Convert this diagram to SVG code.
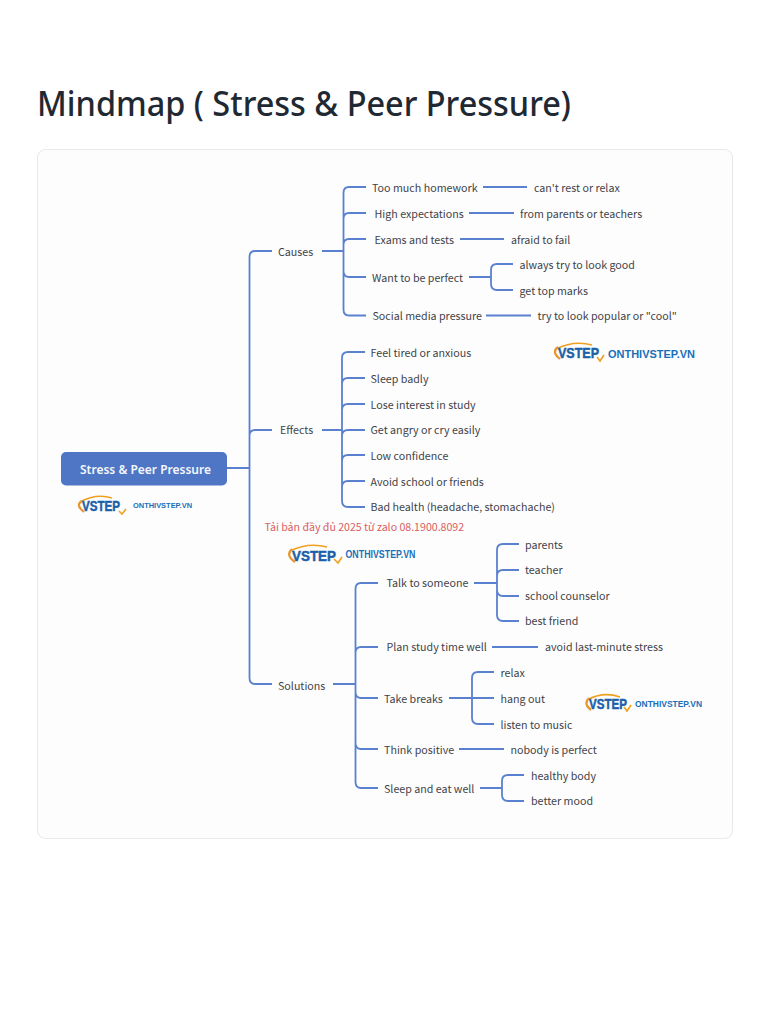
<svg xmlns="http://www.w3.org/2000/svg" width="768" height="1024" viewBox="0 0 768 1024">
<style>
text{font-family:"Noto Sans","Liberation Sans",sans-serif}
.t,.p{font-family:"Noto Sans CJK SC","Noto Sans",sans-serif;dominant-baseline:central;transform:translateY(-1px)}
.t{font-size:10.700px;fill:#3f4347}
.p{font-size:10.600px;fill:#d9605f}
.c{fill:none;stroke:#5a80d0;stroke-width:1.8}
.v{font-family:"Liberation Sans",sans-serif;font-weight:700;fill:#1c5fa8;stroke:#1c5fa8;stroke-width:.5}
.o{font-family:"Liberation Sans",sans-serif;font-weight:700;fill:#1a6fb8}
.a{fill:none;stroke:#f0a020;stroke-width:1.6}
.b{fill:none;stroke:#e8952a;stroke-width:2.2}
</style>
<rect width="768" height="1024" fill="#fff"/>
<text id="title" x="37" y="116" font-size="34" font-weight="500" fill="#1f2933" textLength="534" lengthAdjust="spacingAndGlyphs">Mindmap ( Stress &amp; Peer Pressure)</text>
<rect id="card" x="37.500" y="149.500" width="695" height="689" rx="8" fill="#fdfdfe" stroke="#e6e8eb"/>
<g id="connectors">
<path class="c" d="M227 468H249.500M272 251H255Q249.500 251 249.500 257V678Q249.500 684 255 684H272M249.500 436Q249.500 430 255 430H272"/>
<path class="c" d="M322 251H343.500M366 187H349Q343.500 187 343.500 193V309.500Q343.500 315.500 349 315.500H366M343.500 219Q343.500 213 349 213H366M343.500 245Q343.500 239 349 239H366M343.500 271Q343.500 277 349 277H366"/>
<path class="c" d="M483 187H527M469 213H514M460 239H504M486 315.500H531M469 277H491M513 264H497Q491 264 491 270V284Q491 290 497 290H513"/>
<path class="c" d="M322 430H342M365 352H348Q342 352 342 358V501Q342 507 348 507H365M342 384Q342 378 348 378H365M342 410Q342 404 348 404H365M342 436Q342 430 348 430H365M342 461Q342 455 348 455H365M342 487Q342 481 348 481H365"/>
<path class="c" d="M333 684H355.500M378 583H361Q355.500 583 355.500 589V782Q355.500 788 361 788H378M355.500 653Q355.500 647 361 647H378M355.500 692Q355.500 698 361 698H378M355.500 743Q355.500 749 361 749H378"/>
<path class="c" d="M474 583H497M519 544H503Q497 544 497 550V615Q497 621 503 621H519M497 576Q497 570 503 570H519M497 590Q497 596 503 596H519"/>
<path class="c" d="M492 647H538M449 698H494M494 672H478Q472 672 472 678V718Q472 724 478 724H494M459 749H504M480 788H502M524 775H508Q502 775 502 781V795Q502 801 508 801H524"/>
</g>
<g id="root"><rect x="61" y="452" width="166" height="33.500" rx="5" fill="#4f75c5"/><text x="145.500" y="469" font-size="12" font-weight="600" fill="#f4f7fc" text-anchor="middle" dominant-baseline="central">Stress &amp; Peer Pressure</text></g>
<g id="causes"><text class="t" x="278" y="252.500">Causes</text></g>
<g id="c1"><text class="t" x="372" y="188.500">Too much homework</text><text class="t" x="534" y="188.500">can't rest or relax</text></g>
<g id="c2"><text class="t" x="374.500" y="214.500">High expectations</text><text class="t" x="520" y="214.500">from parents or teachers</text></g>
<g id="c3"><text class="t" x="374.500" y="240.500">Exams and tests</text><text class="t" x="511" y="240.500">afraid to fail</text></g>
<g id="c4"><text class="t" x="372" y="278.500">Want to be perfect</text><text class="t" x="519.500" y="265">always try to look good</text><text class="t" x="519.500" y="291.500">get top marks</text></g>
<g id="c5"><text class="t" x="372.500" y="316">Social media pressure</text><text class="t" x="537.500" y="316">try to look popular or "cool"</text></g>
<g id="effects"><text class="t" x="280" y="430.500">Effects</text></g>
<g id="e1"><text class="t" x="370.500" y="353">Feel tired or anxious</text></g>
<g id="e2"><text class="t" x="370.500" y="379">Sleep badly</text></g>
<g id="e3"><text class="t" x="370.500" y="405.500">Lose interest in study</text></g>
<g id="e4"><text class="t" x="370.500" y="430.500">Get angry or cry easily</text></g>
<g id="e5"><text class="t" x="370.500" y="456">Low confidence</text></g>
<g id="e6"><text class="t" x="370.500" y="482.500">Avoid school or friends</text></g>
<g id="e7"><text class="t" x="370.500" y="507.500">Bad health (headache, stomachache)</text></g>
<g id="promo"><text class="p" x="264.500" y="527.500">Tải bản đầy đủ 2025 từ zalo 08.1900.8092</text></g>
<g id="solutions"><text class="t" x="278" y="686.500">Solutions</text></g>
<g id="s1"><text class="t" x="386.500" y="583.500">Talk to someone</text><text class="t" x="525" y="545">parents</text><text class="t" x="525" y="570.500">teacher</text><text class="t" x="525" y="596">school counselor</text><text class="t" x="525" y="621.500">best friend</text></g>
<g id="s2"><text class="t" x="386.500" y="647.500">Plan study time well</text><text class="t" x="545" y="647.500">avoid last-minute stress</text></g>
<g id="s3"><text class="t" x="384" y="699.500">Take breaks</text><text class="t" x="500.500" y="673.500">relax</text><text class="t" x="500.500" y="699">hang out</text><text class="t" x="500.500" y="725.500">listen to music</text></g>
<g id="s4"><text class="t" x="384" y="750">Think positive</text><text class="t" x="510.500" y="750">nobody is perfect</text></g>
<g id="s5"><text class="t" x="384" y="789.500">Sleep and eat well</text><text class="t" x="531" y="776">healthy body</text><text class="t" x="531" y="801.500">better mood</text></g>
<g id="logo1"><path class="b" d="M84 512Q75 505 82 501"/><path class="a" d="M80 502Q96 493 112 498"/><text class="v" x="82" y="511" font-size="14" textLength="38" lengthAdjust="spacingAndGlyphs">VSTEP</text><path class="a" d="M119 511L122 514L126 509"/><text class="o" x="133" y="508" font-size="8" textLength="59" lengthAdjust="spacingAndGlyphs">ONTHIVSTEP.VN</text></g>
<g id="logo2"><path class="b" d="M560 359Q551 352 558 347"/><path class="a" d="M556 349Q574 340 592 345"/><text class="v" x="558" y="358" font-size="15" textLength="41" lengthAdjust="spacingAndGlyphs">VSTEP</text><path class="a" d="M597 357L600 361L604 355"/><text class="o" x="608" y="358" font-size="11.500" textLength="87" lengthAdjust="spacingAndGlyphs">ONTHIVSTEP.VN</text></g>
<g id="logo3"><path class="b" d="M295 562Q285 555 292 549"/><path class="a" d="M290 551Q308 542 327 547"/><text class="v" x="292" y="561" font-size="15.500" textLength="44" lengthAdjust="spacingAndGlyphs">VSTEP</text><path class="a" d="M334 559L338 563L342 557"/><text class="o" x="345.500" y="558" font-size="10" textLength="70" lengthAdjust="spacingAndGlyphs">ONTHIVSTEP.VN</text></g>
<g id="logo4"><path class="b" d="M591 710Q583 704 589 698"/><path class="a" d="M587 700Q603 691 620 697"/><text class="v" x="589" y="709" font-size="14" textLength="38" lengthAdjust="spacingAndGlyphs">VSTEP</text><path class="a" d="M624 707L627 711L631 705"/><text class="o" x="635" y="707" font-size="9" textLength="67" lengthAdjust="spacingAndGlyphs">ONTHIVSTEP.VN</text></g>
</svg>
